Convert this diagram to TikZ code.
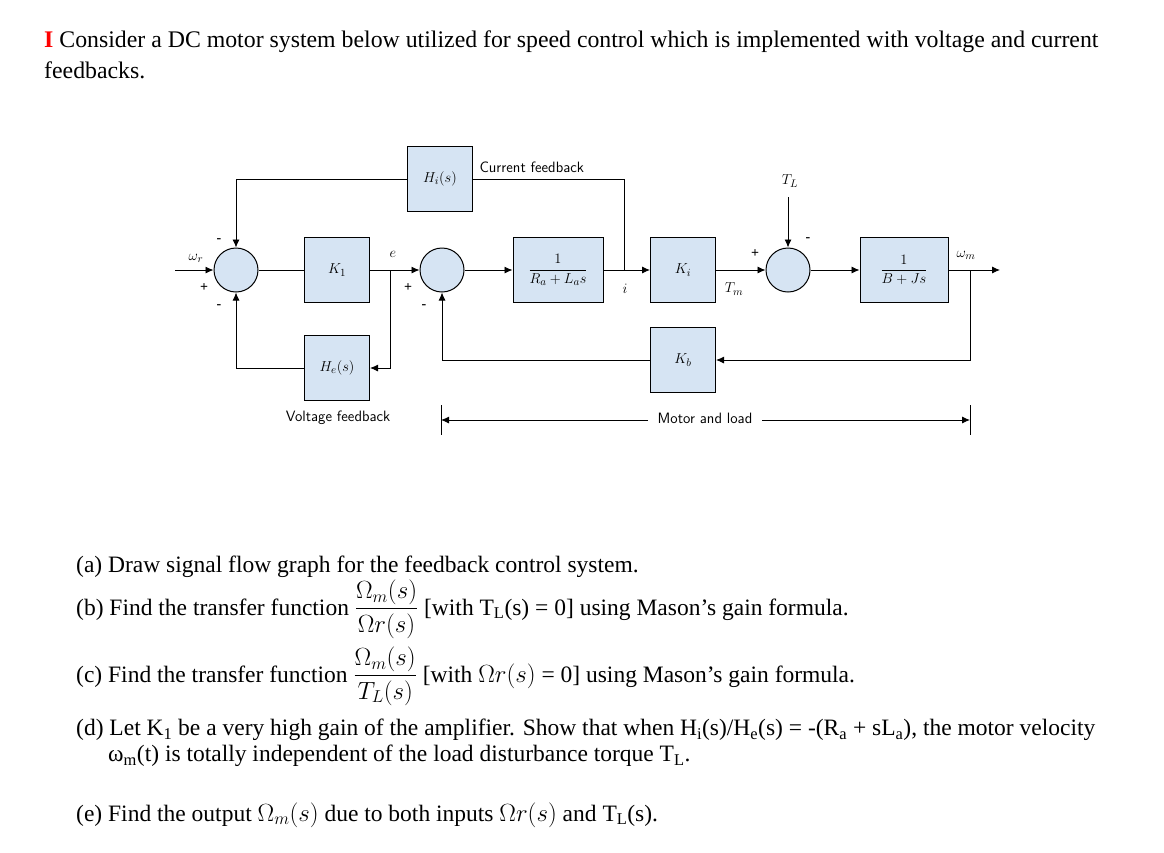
\documentclass[tikz,border=0pt]{standalone}
\usepackage{amsmath}
\usepackage{fontspec}
\setmainfont{Liberation Serif}
\usetikzlibrary{arrows.meta}
\definecolor{bl}{RGB}{214,228,243}
\begin{document}
\begin{tikzpicture}[x=1pt,y=-1pt,
 blk/.style={draw,line width=1pt,fill=bl,minimum width=65pt,minimum height=65pt,inner sep=1pt,font=\fontsize{15}{17}\selectfont},
 sm/.style={draw,line width=1pt,fill=bl,circle,minimum size=44pt,inner sep=0pt},
 ar/.style={line width=0.9pt,-{Latex[length=8pt,width=7pt]}},
 ln/.style={line width=0.9pt},
 lb/.style={font=\fontsize{15}{17}\selectfont},
 sg/.style={font=\fontsize{14}{16}\selectfont\bfseries},
 sf/.style={font=\fontsize{15}{17}\selectfont\sffamily},
 q/.style={anchor=west,font=\fontsize{23.5}{27}\selectfont,inner sep=0pt}]
\useasboundingbox (0,0) rectangle (1164,852);
\node[anchor=west,inner sep=0pt,font=\fontsize{23.8}{27}\selectfont] (t1) at (44,42) {\textcolor{red}{\textbf{I}} Consider a DC motor system below utilized for speed control which is implemented with voltage and current};
\node[anchor=west,inner sep=0pt,font=\fontsize{23.8}{27}\selectfont] (t2) at (44,70) {feedbacks.};
% blocks
\node[sm] (s1) at (236,270) {};
\node[blk] (k1) at (337,270) {$K_1$};
\node[sm] (s2) at (442,270) {};
\node[blk,minimum width=90pt] (ra) at (558,270) {$\dfrac{1}{R_a+L_as}$};
\node[blk] (ki) at (683,270) {$K_i$};
\node[sm] (s3) at (788,270) {};
\node[blk,minimum width=88pt] (bj) at (904,270) {$\dfrac{1}{B+Js}$};
\node[blk] (hi) at (440,179) {$H_i(s)$};
\node[blk] (he) at (337,368) {$H_e(s)$};
\node[blk] (kb) at (683,360) {$K_b$};
\coordinate (win) at (175,270);
\coordinate (eb) at (390,270);
\coordinate (ib) at (624,270);
\coordinate (wb) at (970,270);
\coordinate (wout) at (1000,270);
\coordinate (tl) at (788,197);
% connectors
\draw[ar] (win) -- (s1);
\draw[ln] (s1) -- (k1);
\draw[ar] (k1) -- (s2);
\draw[ar] (s2) -- (ra);
\draw[ar] (ra) -- (ki);
\draw[ar] (ki) -- (s3);
\draw[ar] (s3) -- (bj);
\draw[ar] (bj) -- (wout);
\draw[ar] (tl) -- (s3);
\draw[ln] (ib) |- (hi.east) ;
\draw[ar] (hi.west) -| (s1.north);
\draw[ar] (eb) |- (he.east);
\draw[ar] (he.west) -| (s1.south);
\draw[ar] (wb) |- (kb.east);
\draw[ar] (kb.west) -| (s2.south);
% labels
\node[lb] (lwr) at (196,258) {$\omega_r$};
\node[lb] (le) at (393,254) {$e$};
\node[lb] (li) at (625,289) {$i$};
\node[lb] (ltm) at (734,289) {$T_m$};
\node[lb] (ltl) at (790,181) {$T_L$};
\node[lb] (lwm) at (966,255) {$\omega_m$};
\node[sg] (p1) at (204,288) {+};
\node[sg] (m1) at (219,241) {-};
\node[sg] (m2) at (219,307) {-};
\node[sg] (p2) at (408,288) {+};
\node[sg] (m3) at (424,307) {-};
\node[sg] (p3) at (755,254) {+};
\node[sg] (m4) at (808,240) {-};
\node[sf,anchor=west] (cf) at (476,167) {Current feedback};
\node[sf] (vf) at (338,418) {Voltage feedback};
\node[sf,fill=white,inner sep=1pt] (ml) at (705,418) {Motor and load};
\coordinate (bl) at (441,420);
\coordinate (br) at (970,420);
\coordinate (mlw) at (648,420);
\coordinate (mle) at (762,420);
\draw[ln] (441,405) -- (441,435);
\draw[ln] (970,405) -- (970,435);
\draw[ar] (mlw) -- (bl);
\draw[ar] (mle) -- (br);
% questions
\node[q] (qa) at (76,567) {(a) Draw signal flow graph for the feedback control system.};
\node[q] (qb) at (76,609) {(b) Find the transfer function $\dfrac{\Omega_m(s)}{\Omega r(s)}$ [with T\textsubscript{L}(s) = 0] using Mason’s gain formula.};
\node[q] (qc) at (76,676) {(c) Find the transfer function $\dfrac{\Omega_m(s)}{T_L(s)}$ [with $\Omega r(s)$ = 0] using Mason’s gain formula.};
\node[q] (qd) at (76,730) {(d) Let K\textsubscript{1} be a very high gain of the amplifier. Show that when H\textsubscript{i}(s)/H\textsubscript{e}(s) = -(R\textsubscript{a} + sL\textsubscript{a}), the motor velocity};
\node[q] (qd2) at (108,756) {ω\textsubscript{m}(t) is totally independent of the load disturbance torque T\textsubscript{L}.};
\node[q] (qe) at (76,815) {(e) Find the output $\Omega_m(s)$ due to both inputs $\Omega r(s)$ and T\textsubscript{L}(s).};
\end{tikzpicture}
\end{document}
